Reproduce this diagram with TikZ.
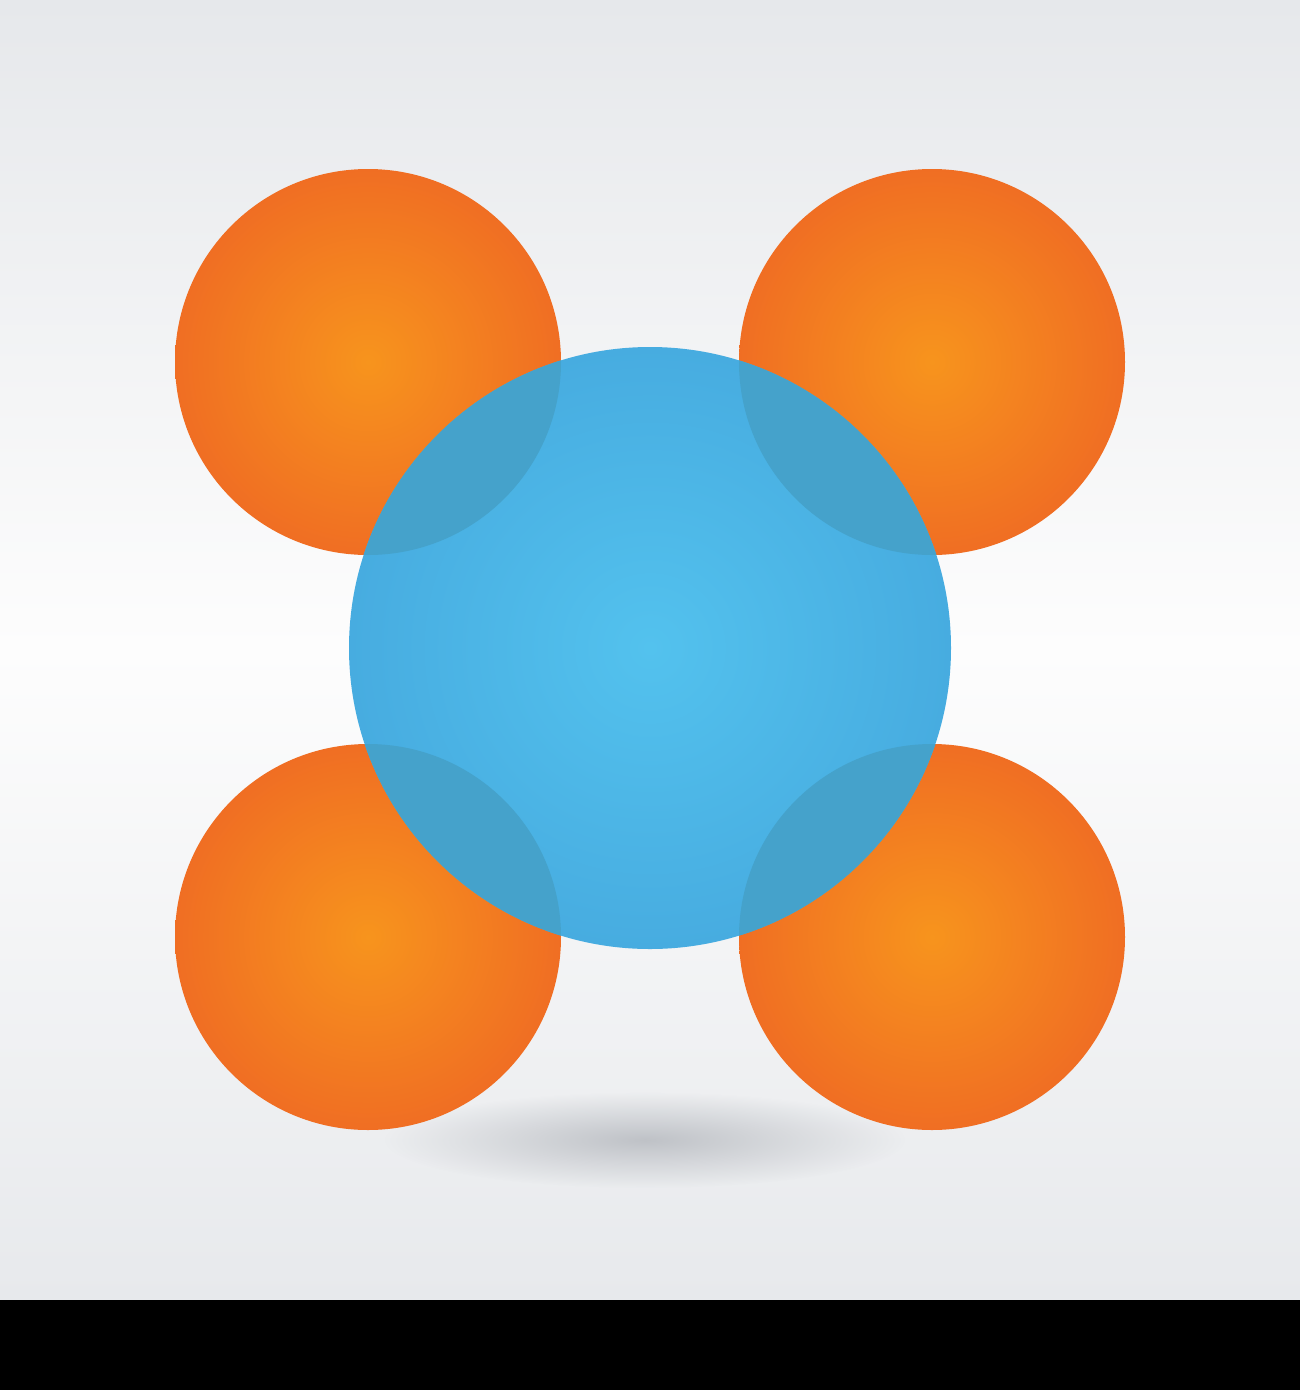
\documentclass[tikz,border=0pt]{standalone}
\usetikzlibrary{fadings}
\definecolor{bgtop}{HTML}{E6E8EB}
\definecolor{bgmid}{HTML}{FDFDFD}
\definecolor{bgbot}{HTML}{E7E9EC}
\definecolor{orin}{HTML}{F7941D}
\definecolor{orout}{HTML}{F06E23}
\definecolor{blin}{HTML}{53C2EE}
\definecolor{blout}{HTML}{47ACE0}
\definecolor{ovl}{HTML}{45A2CB}
\definecolor{shad}{HTML}{BFC2C7}
\tikzfading[name=softspot, inner color=transparent!0, outer color=transparent!100]
\tikzset{
  ball/.style={circle, minimum size=386pt, inner sep=0pt, draw=none, shading=radial, inner color=orin, outer color=orout},
  core/.style={circle, minimum size=602pt, inner sep=0pt, draw=none, shading=radial, inner color=blin, outer color=blout}
}
\begin{document}
\begin{tikzpicture}[x=1pt,y=-1pt]
\useasboundingbox (0,0) rectangle (1300,1390);
\shade[top color=bgtop, bottom color=bgmid] (0,0) rectangle (1300,650);
\shade[top color=bgmid, bottom color=bgbot] (0,650) rectangle (1300,1300);
\fill[shad, path fading=softspot] (645,1140) ellipse [x radius=260pt, y radius=48pt];
\node[ball] (tl) at (368,362) {};
\node[ball] (tr) at (932,362) {};
\node[ball] (bl) at (368,937) {};
\node[ball] (br) at (932,937) {};
\node[core] (c) at (650,648) {};
\begin{scope}
  \clip (c.center) circle [radius=301pt];
  \fill[ovl] (tl.center) circle [radius=193pt] (tr.center) circle [radius=193pt]
             (bl.center) circle [radius=193pt] (br.center) circle [radius=193pt];
\end{scope}
\fill[black] (0,1300) rectangle (1300,1390);
\end{tikzpicture}
\end{document}
